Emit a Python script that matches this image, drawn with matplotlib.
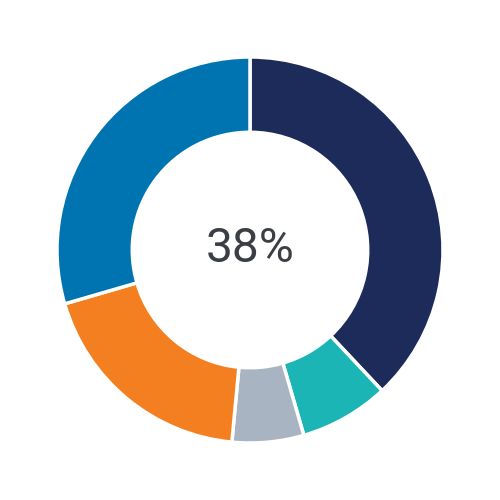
import matplotlib
matplotlib.use('Agg')
import matplotlib.pyplot as plt

# Datos del donut (en sentido horario desde arriba)
etiquetas = ['Segmento A', 'Segmento B', 'Segmento C', 'Segmento D', 'Segmento E']
valores = [38, 7.5, 6, 19, 29.5]
colores = ['#1c2b5a', '#1bb5b6', '#a9b4c2', '#f47f20', '#0073b1']
texto_centro = '38%'

fig = plt.figure(figsize=(5, 5), dpi=100)
ax = fig.add_axes([0, 0, 1, 1])

ax.pie(valores, colors=colores, startangle=90, counterclock=False,
       radius=1.0,
       wedgeprops=dict(width=0.39, edgecolor='white', linewidth=2.5))

ax.text(0, 0.005, texto_centro, ha='center', va='center',
        fontsize=34.5, family='Roboto', color='#3b3f44')

lim = 250 / 193
ax.set_xlim(-lim, lim)
ax.set_ylim(-lim, lim)
ax.set_aspect('equal')
ax.axis('off')

fig.savefig('out.png', dpi=100, facecolor='white')
